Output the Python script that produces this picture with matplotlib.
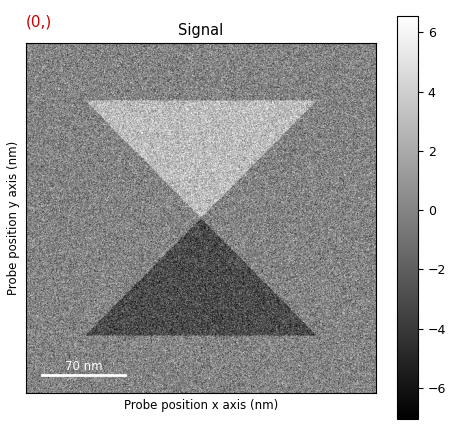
import numpy as np
import matplotlib
matplotlib.use("Agg")
import matplotlib.pyplot as plt

n_pix = 512
field_nm = 295.0
background = 0.0
upper_level = 3.0
lower_level = -3.0
noise_std = 2.0
vmin, vmax = -7.05, 6.55
scale_nm = 70
title = "Signal"
xlabel = "Probe position x axis (nm)"
ylabel = "Probe position y axis (nm)"
index_label = "(0,)"

u = (np.arange(n_pix) + 0.5) / n_pix
X, Y = np.meshgrid(u, u)
img = np.full((n_pix, n_pix), background)
top, bot, cx = 0.165, 0.835, 0.5
halfw = 0.33
up = (Y >= top) & (Y <= 0.5) & (np.abs(X - cx) <= halfw * (0.5 - Y) / (0.5 - top))
lo = (Y >= 0.5) & (Y <= bot) & (np.abs(X - cx) <= halfw * (Y - 0.5) / (bot - 0.5))
img[up] = upper_level
img[lo] = lower_level
rng = np.random.default_rng(0)
img = img + rng.normal(0, noise_std, img.shape)

fig = plt.figure(figsize=(4.74, 4.30), dpi=100)
ax = fig.add_axes([26/474, 1-393/430, 350/474, 350/430])
cax = fig.add_axes([397/474, 1-419/430, 21/474, 403/430])
im = ax.imshow(img, cmap="gray", vmin=vmin, vmax=vmax, extent=[0, field_nm, field_nm, 0],
               interpolation="antialiased", aspect="auto")
ax.set_xticks([]); ax.set_yticks([])
ax.set_title(title, fontsize=10.5)
ax.set_xlabel(xlabel, fontsize=8.5)
ax.set_ylabel(ylabel, fontsize=8.5)
x0 = field_nm * 16 / 350
yb = field_nm * (375 - 43) / 350
ax.plot([x0, x0 + scale_nm], [yb, yb], color="white", lw=2)
ax.text(x0 + scale_nm / 2, yb - 2, f"{scale_nm} nm", color="white", ha="center", va="bottom", fontsize=8.5)
ax.set_xlim(0, field_nm); ax.set_ylim(field_nm, 0)
cb = fig.colorbar(im, cax=cax)
cb.set_ticks([-6, -4, -2, 0, 2, 4, 6])
cb.ax.tick_params(labelsize=9)
fig.text(26/474, 1-22/430, index_label, color="#cc0000", fontsize=11, va="center")
fig.savefig("out.png", dpi=100)
